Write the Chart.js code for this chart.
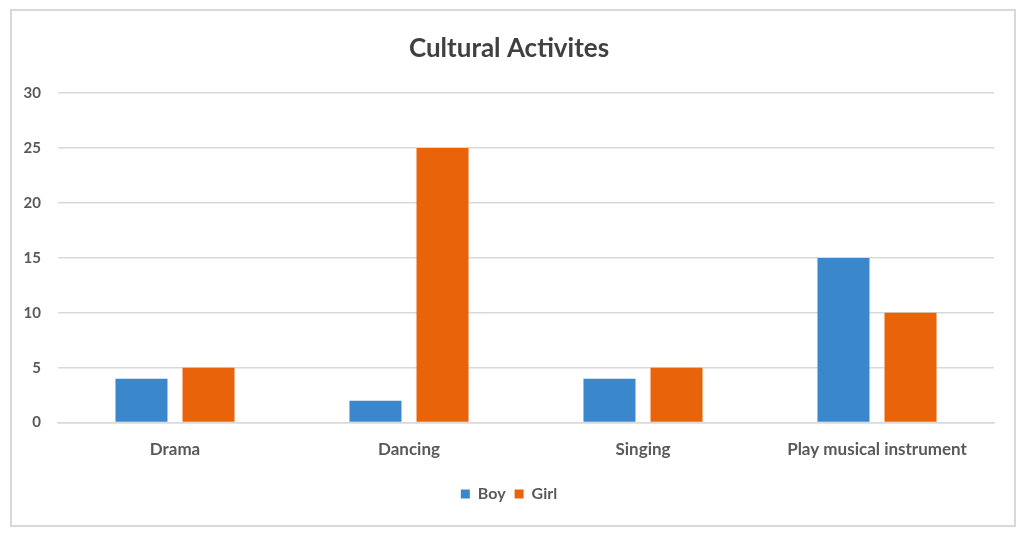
<!DOCTYPE html>
<html>
<head>
<meta charset="utf-8">
<script src="https://cdn.jsdelivr.net/npm/chart.js@4.4.0/dist/chart.umd.min.js"></script>
<style>
  html, body { margin: 0; padding: 0; background: #ffffff; }
  body { width: 1024px; height: 534px; position: relative; overflow: hidden; }
  #wrap { position: absolute; left: 10px; top: 9px; width: 1006px; height: 518px;
          border: 2px solid #d9d9d9; box-sizing: border-box; background: #fff; }
  #c { display: block; }
</style>
</head>
<body>
<div id="wrap"><canvas id="c"></canvas></div>
<script>
const categories = ["Drama", "Dancing", "Singing", "Play musical instrument"];
const boyValues = [4, 2, 4, 15];
const girlValues = [5, 25, 5, 10];
const seriesNames = ["Boy", "Girl"];
const yTicks = [0, 5, 10, 15, 20, 25, 30];
const titleText = "Cultural Activites";

const FONT = "Lato, 'Open Sans', sans-serif";

new Chart(document.getElementById('c'), {
  type: 'bar',
  data: {
    labels: categories,
    datasets: [
      { label: seriesNames[0], data: boyValues, backgroundColor: '#3a87cc',
        categoryPercentage: 0.573, barPercentage: 0.776 },
      { label: seriesNames[1], data: girlValues, backgroundColor: '#e8630a',
        categoryPercentage: 0.573, barPercentage: 0.776 }
    ]
  },
  options: {
    responsive: true,
    maintainAspectRatio: false,
    animation: false,
    layout: { padding: { left: 12, right: 20, top: 0, bottom: 13 } },
    plugins: {
      title: {
        display: true, text: titleText, color: '#404040',
        font: { family: FONT, size: 26, weight: 'bold' },
        padding: { top: 22, bottom: 29 }
      },
      legend: {
        position: 'bottom',
        labels: {
          color: '#595959', boxWidth: 9, boxHeight: 9, padding: 9,
          font: { family: FONT, size: 16, weight: 'bold' }
        }
      },
      tooltip: { enabled: false }
    },
    scales: {
      x: {
        grid: { display: false, drawTicks: false },
        border: { display: true, color: '#d9d9d9', width: 1.5 },
        ticks: { color: '#595959', padding: 17,
                 font: { family: FONT, size: 17, weight: 'bold' } }
      },
      y: {
        min: 0, max: 30,
        afterBuildTicks: (axis) => { axis.ticks = yTicks.map(v => ({ value: v })); },
        afterFit: (axis) => { axis.width = 34; },
        grid: { color: '#d9d9d9', lineWidth: 1.5, drawTicks: false },
        border: { display: false },
        ticks: { color: '#595959', padding: 17,
                 font: { family: FONT, size: 15, weight: 'bold' } }
      }
    }
  }
});
</script>
</body>
</html>
